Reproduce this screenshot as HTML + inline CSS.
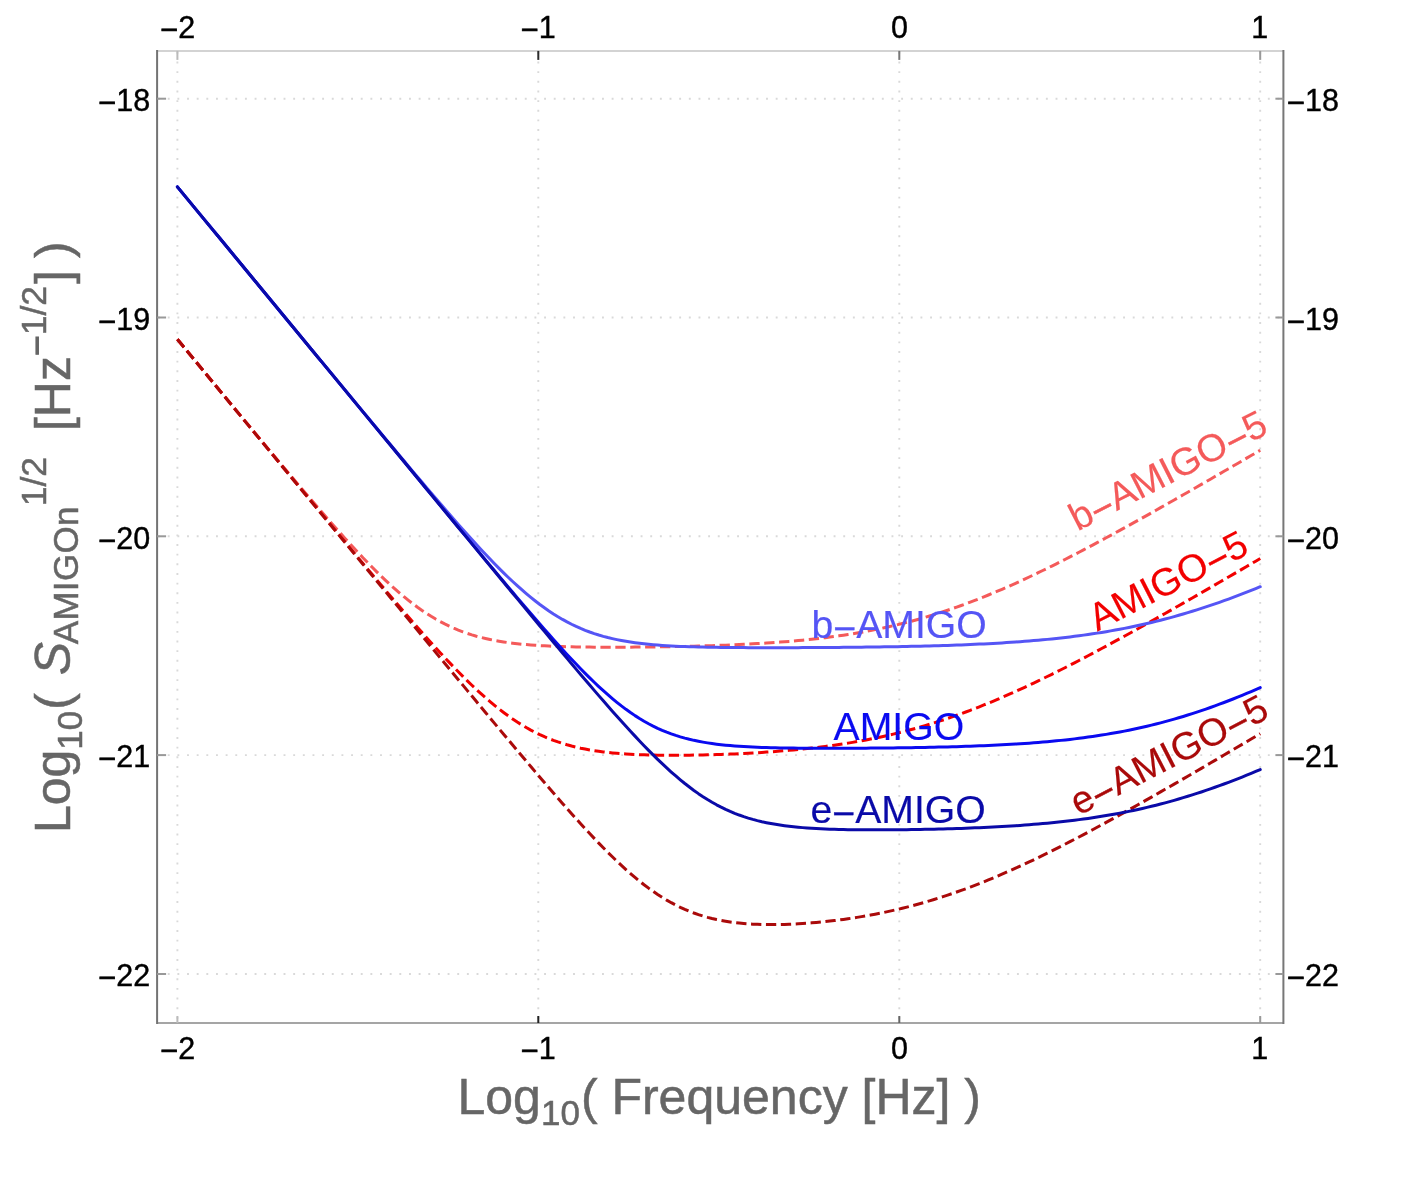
<!DOCTYPE html>
<html><head><meta charset="utf-8"><title>AMIGO sensitivity</title>
<style>html,body{margin:0;padding:0;background:#fff;}svg{display:block;}</style></head>
<body>
<svg width="1426" height="1180" viewBox="0 0 1426 1180" font-family="'Liberation Sans', sans-serif">
<rect width="100%" height="100%" fill="#fff"/>
<g stroke="#d9d9d9" stroke-width="1.9" stroke-dasharray="1.9 7.75"><line x1="177.4" y1="51.9" x2="177.4" y2="1022.0"/><line x1="538.3" y1="51.9" x2="538.3" y2="1022.0"/><line x1="899.3" y1="51.9" x2="899.3" y2="1022.0"/><line x1="1260.2" y1="51.9" x2="1260.2" y2="1022.0"/><line x1="158.1" y1="98.7" x2="1282.4" y2="98.7"/><line x1="158.1" y1="317.5" x2="1282.4" y2="317.5"/><line x1="158.1" y1="536.3" x2="1282.4" y2="536.3"/><line x1="158.1" y1="755.1" x2="1282.4" y2="755.1"/><line x1="158.1" y1="974.0" x2="1282.4" y2="974.0"/></g>
<path d="M177.40,339.22 L181.93,344.70 L186.46,350.19 L190.99,355.68 L195.52,361.16 L200.05,366.64 L204.58,372.13 L209.12,377.61 L213.65,383.09 L218.18,388.56 L222.71,394.04 L227.24,399.51 L231.77,404.98 L236.30,410.45 L240.83,415.91 L245.36,421.37 L249.89,426.83 L254.42,432.28 L258.95,437.72 L263.48,443.16 L268.02,448.59 L272.55,454.02 L277.08,459.43 L281.61,464.84 L286.14,470.23 L290.67,475.61 L295.20,480.98 L299.73,486.33 L304.26,491.66 L308.79,496.97 L313.32,502.26 L317.85,507.53 L322.38,512.77 L326.91,517.97 L331.45,523.14 L335.98,528.27 L340.51,533.36 L345.04,538.40 L349.57,543.38 L354.10,548.31 L358.63,553.17 L363.16,557.96 L367.69,562.67 L372.22,567.30 L376.75,571.83 L381.28,576.26 L385.81,580.59 L390.35,584.80 L394.88,588.88 L399.41,592.83 L403.94,596.65 L408.47,600.32 L413.00,603.83 L417.53,607.20 L422.06,610.40 L426.59,613.43 L431.12,616.30 L435.65,619.00 L440.18,621.53 L444.71,623.90 L449.25,626.11 L453.78,628.15 L458.31,630.05 L462.84,631.79 L467.37,633.39 L471.90,634.85 L476.43,636.19 L480.96,637.41 L485.49,638.51 L490.02,639.51 L494.55,640.42 L499.08,641.23 L503.61,641.96 L508.14,642.61 L512.68,643.20 L517.21,643.73 L521.74,644.19 L526.27,644.61 L530.80,644.98 L535.33,645.30 L539.86,645.59 L544.39,645.85 L548.92,646.07 L553.45,646.27 L557.98,646.44 L562.51,646.58 L567.04,646.71 L571.58,646.82 L576.11,646.91 L580.64,646.99 L585.17,647.06 L589.70,647.11 L594.23,647.15 L598.76,647.18 L603.29,647.20 L607.82,647.21 L612.35,647.21 L616.88,647.21 L621.41,647.20 L625.94,647.18 L630.48,647.15 L635.01,647.12 L639.54,647.09 L644.07,647.04 L648.60,646.99 L653.13,646.94 L657.66,646.88 L662.19,646.81 L666.72,646.74 L671.25,646.66 L675.78,646.57 L680.31,646.48 L684.84,646.38 L689.38,646.27 L693.91,646.16 L698.44,646.04 L702.97,645.91 L707.50,645.77 L712.03,645.63 L716.56,645.47 L721.09,645.31 L725.62,645.14 L730.15,644.95 L734.68,644.76 L739.21,644.55 L743.74,644.34 L748.27,644.11 L752.81,643.86 L757.34,643.61 L761.87,643.34 L766.40,643.05 L770.93,642.75 L775.46,642.43 L779.99,642.10 L784.52,641.75 L789.05,641.38 L793.58,640.99 L798.11,640.58 L802.64,640.14 L807.17,639.69 L811.71,639.21 L816.24,638.71 L820.77,638.19 L825.30,637.64 L829.83,637.06 L834.36,636.46 L838.89,635.82 L843.42,635.16 L847.95,634.47 L852.48,633.75 L857.01,632.99 L861.54,632.21 L866.07,631.39 L870.61,630.53 L875.14,629.64 L879.67,628.72 L884.20,627.76 L888.73,626.76 L893.26,625.72 L897.79,624.65 L902.32,623.54 L906.85,622.39 L911.38,621.19 L915.91,619.97 L920.44,618.70 L924.97,617.39 L929.51,616.04 L934.04,614.65 L938.57,613.22 L943.10,611.75 L947.63,610.25 L952.16,608.70 L956.69,607.12 L961.22,605.49 L965.75,603.83 L970.28,602.14 L974.81,600.40 L979.34,598.63 L983.87,596.83 L988.40,594.99 L992.94,593.11 L997.47,591.21 L1002.00,589.27 L1006.53,587.30 L1011.06,585.29 L1015.59,583.26 L1020.12,581.20 L1024.65,579.12 L1029.18,577.00 L1033.71,574.86 L1038.24,572.70 L1042.77,570.51 L1047.30,568.30 L1051.84,566.06 L1056.37,563.80 L1060.90,561.53 L1065.43,559.23 L1069.96,556.91 L1074.49,554.58 L1079.02,552.23 L1083.55,549.86 L1088.08,547.47 L1092.61,545.07 L1097.14,542.66 L1101.67,540.23 L1106.20,537.79 L1110.74,535.34 L1115.27,532.87 L1119.80,530.39 L1124.33,527.91 L1128.86,525.41 L1133.39,522.90 L1137.92,520.38 L1142.45,517.86 L1146.98,515.32 L1151.51,512.78 L1156.04,510.23 L1160.57,507.68 L1165.10,505.11 L1169.63,502.54 L1174.17,499.97 L1178.70,497.39 L1183.23,494.80 L1187.76,492.21 L1192.29,489.61 L1196.82,487.01 L1201.35,484.40 L1205.88,481.79 L1210.41,479.18 L1214.94,476.56 L1219.47,473.94 L1224.00,471.32 L1228.53,468.69 L1233.07,466.06 L1237.60,463.43 L1242.13,460.79 L1246.66,458.15 L1251.19,455.51 L1255.72,452.87 L1260.25,450.23" stroke="#f45a5a" fill="none" stroke-width="3" stroke-dasharray="10.3 4.6"/>
<path d="M177.40,339.26 L181.93,344.75 L186.46,350.24 L190.99,355.74 L195.52,361.23 L200.05,366.72 L204.58,372.21 L209.12,377.71 L213.65,383.20 L218.18,388.69 L222.71,394.18 L227.24,399.67 L231.77,405.16 L236.30,410.65 L240.83,416.14 L245.36,421.63 L249.89,427.12 L254.42,432.61 L258.95,438.10 L263.48,443.58 L268.02,449.07 L272.55,454.56 L277.08,460.04 L281.61,465.53 L286.14,471.01 L290.67,476.49 L295.20,481.97 L299.73,487.45 L304.26,492.92 L308.79,498.39 L313.32,503.87 L317.85,509.33 L322.38,514.80 L326.91,520.26 L331.45,525.72 L335.98,531.17 L340.51,536.62 L345.04,542.06 L349.57,547.50 L354.10,552.92 L358.63,558.34 L363.16,563.76 L367.69,569.16 L372.22,574.55 L376.75,579.93 L381.28,585.29 L385.81,590.64 L390.35,595.97 L394.88,601.28 L399.41,606.57 L403.94,611.84 L408.47,617.07 L413.00,622.28 L417.53,627.45 L422.06,632.59 L426.59,637.69 L431.12,642.74 L435.65,647.74 L440.18,652.68 L444.71,657.56 L449.25,662.38 L453.78,667.12 L458.31,671.78 L462.84,676.36 L467.37,680.84 L471.90,685.23 L476.43,689.50 L480.96,693.66 L485.49,697.70 L490.02,701.61 L494.55,705.38 L499.08,709.01 L503.61,712.49 L508.14,715.82 L512.68,718.99 L517.21,722.00 L521.74,724.85 L526.27,727.54 L530.80,730.06 L535.33,732.43 L539.86,734.63 L544.39,736.68 L548.92,738.58 L553.45,740.34 L557.98,741.95 L562.51,743.43 L567.04,744.79 L571.58,746.02 L576.11,747.14 L580.64,748.16 L585.17,749.07 L589.70,749.90 L594.23,750.64 L598.76,751.31 L603.29,751.90 L607.82,752.43 L612.35,752.89 L616.88,753.30 L621.41,753.66 L625.94,753.98 L630.48,754.25 L635.01,754.48 L639.54,754.68 L644.07,754.84 L648.60,754.98 L653.13,755.09 L657.66,755.17 L662.19,755.23 L666.72,755.27 L671.25,755.29 L675.78,755.29 L680.31,755.27 L684.84,755.24 L689.38,755.19 L693.91,755.12 L698.44,755.04 L702.97,754.94 L707.50,754.83 L712.03,754.71 L716.56,754.57 L721.09,754.42 L725.62,754.26 L730.15,754.08 L734.68,753.89 L739.21,753.68 L743.74,753.46 L748.27,753.22 L752.81,752.97 L757.34,752.70 L761.87,752.42 L766.40,752.12 L770.93,751.80 L775.46,751.47 L779.99,751.12 L784.52,750.74 L789.05,750.35 L793.58,749.94 L798.11,749.51 L802.64,749.05 L807.17,748.57 L811.71,748.07 L816.24,747.54 L820.77,746.99 L825.30,746.41 L829.83,745.81 L834.36,745.18 L838.89,744.52 L843.42,743.83 L847.95,743.11 L852.48,742.36 L857.01,741.58 L861.54,740.77 L866.07,739.92 L870.61,739.04 L875.14,738.12 L879.67,737.17 L884.20,736.19 L888.73,735.16 L893.26,734.11 L897.79,733.01 L902.32,731.88 L906.85,730.71 L911.38,729.50 L915.91,728.25 L920.44,726.96 L924.97,725.64 L929.51,724.28 L934.04,722.87 L938.57,721.43 L943.10,719.96 L947.63,718.44 L952.16,716.88 L956.69,715.29 L961.22,713.66 L965.75,712.00 L970.28,710.30 L974.81,708.56 L979.34,706.79 L983.87,704.98 L988.40,703.14 L992.94,701.27 L997.47,699.36 L1002.00,697.43 L1006.53,695.46 L1011.06,693.46 L1015.59,691.43 L1020.12,689.38 L1024.65,687.30 L1029.18,685.19 L1033.71,683.05 L1038.24,680.90 L1042.77,678.71 L1047.30,676.51 L1051.84,674.28 L1056.37,672.03 L1060.90,669.76 L1065.43,667.47 L1069.96,665.16 L1074.49,662.83 L1079.02,660.49 L1083.55,658.12 L1088.08,655.75 L1092.61,653.35 L1097.14,650.95 L1101.67,648.52 L1106.20,646.09 L1110.74,643.64 L1115.27,641.18 L1119.80,638.71 L1124.33,636.22 L1128.86,633.73 L1133.39,631.23 L1137.92,628.71 L1142.45,626.19 L1146.98,623.66 L1151.51,621.12 L1156.04,618.57 L1160.57,616.02 L1165.10,613.45 L1169.63,610.89 L1174.17,608.31 L1178.70,605.73 L1183.23,603.14 L1187.76,600.55 L1192.29,597.95 L1196.82,595.35 L1201.35,592.75 L1205.88,590.13 L1210.41,587.52 L1214.94,584.90 L1219.47,582.28 L1224.00,579.65 L1228.53,577.02 L1233.07,574.39 L1237.60,571.75 L1242.13,569.11 L1246.66,566.47 L1251.19,563.83 L1255.72,561.18 L1260.25,558.53" stroke="#f20000" fill="none" stroke-width="3" stroke-dasharray="10.3 4.6"/>
<path d="M177.40,339.26 L181.93,344.76 L186.46,350.25 L190.99,355.75 L195.52,361.24 L200.05,366.73 L204.58,372.23 L209.12,377.72 L213.65,383.21 L218.18,388.71 L222.71,394.20 L227.24,399.69 L231.77,405.19 L236.30,410.68 L240.83,416.17 L245.36,421.67 L249.89,427.16 L254.42,432.65 L258.95,438.15 L263.48,443.64 L268.02,449.13 L272.55,454.63 L277.08,460.12 L281.61,465.61 L286.14,471.11 L290.67,476.60 L295.20,482.09 L299.73,487.59 L304.26,493.08 L308.79,498.57 L313.32,504.07 L317.85,509.56 L322.38,515.05 L326.91,520.55 L331.45,526.04 L335.98,531.53 L340.51,537.02 L345.04,542.52 L349.57,548.01 L354.10,553.50 L358.63,558.99 L363.16,564.48 L367.69,569.98 L372.22,575.47 L376.75,580.96 L381.28,586.45 L385.81,591.94 L390.35,597.43 L394.88,602.92 L399.41,608.41 L403.94,613.90 L408.47,619.39 L413.00,624.87 L417.53,630.36 L422.06,635.85 L426.59,641.33 L431.12,646.81 L435.65,652.30 L440.18,657.78 L444.71,663.26 L449.25,668.73 L453.78,674.21 L458.31,679.68 L462.84,685.15 L467.37,690.62 L471.90,696.08 L476.43,701.54 L480.96,707.00 L485.49,712.45 L490.02,717.90 L494.55,723.34 L499.08,728.77 L503.61,734.20 L508.14,739.61 L512.68,745.02 L517.21,750.42 L521.74,755.80 L526.27,761.17 L530.80,766.53 L535.33,771.87 L539.86,777.19 L544.39,782.48 L548.92,787.76 L553.45,793.00 L557.98,798.22 L562.51,803.40 L567.04,808.55 L571.58,813.65 L576.11,818.71 L580.64,823.71 L585.17,828.66 L589.70,833.54 L594.23,838.36 L598.76,843.10 L603.29,847.76 L607.82,852.33 L612.35,856.80 L616.88,861.17 L621.41,865.42 L625.94,869.56 L630.48,873.56 L635.01,877.42 L639.54,881.15 L644.07,884.72 L648.60,888.13 L653.13,891.38 L657.66,894.47 L662.19,897.38 L666.72,900.13 L671.25,902.70 L675.78,905.10 L680.31,907.32 L684.84,909.38 L689.38,911.28 L693.91,913.02 L698.44,914.60 L702.97,916.04 L707.50,917.33 L712.03,918.49 L716.56,919.53 L721.09,920.45 L725.62,921.25 L730.15,921.95 L734.68,922.56 L739.21,923.07 L743.74,923.50 L748.27,923.85 L752.81,924.13 L757.34,924.34 L761.87,924.48 L766.40,924.57 L770.93,924.60 L775.46,924.58 L779.99,924.52 L784.52,924.40 L789.05,924.24 L793.58,924.04 L798.11,923.80 L802.64,923.53 L807.17,923.21 L811.71,922.85 L816.24,922.47 L820.77,922.04 L825.30,921.58 L829.83,921.08 L834.36,920.55 L838.89,919.99 L843.42,919.39 L847.95,918.75 L852.48,918.08 L857.01,917.38 L861.54,916.63 L866.07,915.85 L870.61,915.04 L875.14,914.18 L879.67,913.29 L884.20,912.36 L888.73,911.39 L893.26,910.38 L897.79,909.34 L902.32,908.25 L906.85,907.12 L911.38,905.95 L915.91,904.74 L920.44,903.50 L924.97,902.21 L929.51,900.87 L934.04,899.50 L938.57,898.09 L943.10,896.64 L947.63,895.14 L952.16,893.61 L956.69,892.03 L961.22,890.42 L965.75,888.77 L970.28,887.08 L974.81,885.35 L979.34,883.58 L983.87,881.78 L988.40,879.94 L992.94,878.07 L997.47,876.16 L1002.00,874.22 L1006.53,872.24 L1011.06,870.24 L1015.59,868.20 L1020.12,866.14 L1024.65,864.04 L1029.18,861.92 L1033.71,859.77 L1038.24,857.59 L1042.77,855.39 L1047.30,853.16 L1051.84,850.91 L1056.37,848.64 L1060.90,846.34 L1065.43,844.03 L1069.96,841.69 L1074.49,839.34 L1079.02,836.96 L1083.55,834.57 L1088.08,832.17 L1092.61,829.74 L1097.14,827.30 L1101.67,824.85 L1106.20,822.38 L1110.74,819.90 L1115.27,817.41 L1119.80,814.91 L1124.33,812.39 L1128.86,809.86 L1133.39,807.33 L1137.92,804.78 L1142.45,802.22 L1146.98,799.66 L1151.51,797.08 L1156.04,794.50 L1160.57,791.91 L1165.10,789.32 L1169.63,786.71 L1174.17,784.10 L1178.70,781.49 L1183.23,778.87 L1187.76,776.24 L1192.29,773.61 L1196.82,770.97 L1201.35,768.33 L1205.88,765.69 L1210.41,763.04 L1214.94,760.39 L1219.47,757.73 L1224.00,755.07 L1228.53,752.41 L1233.07,749.74 L1237.60,747.07 L1242.13,744.40 L1246.66,741.72 L1251.19,739.04 L1255.72,736.36 L1260.25,733.68" stroke="#aa0a0a" fill="none" stroke-width="3" stroke-dasharray="10.3 4.6"/>
<path d="M177.40,186.88 L181.93,192.37 L186.46,197.87 L190.99,203.36 L195.52,208.85 L200.05,214.35 L204.58,219.84 L209.12,225.33 L213.65,230.82 L218.18,236.32 L222.71,241.81 L227.24,247.30 L231.77,252.80 L236.30,258.29 L240.83,263.78 L245.36,269.27 L249.89,274.77 L254.42,280.26 L258.95,285.75 L263.48,291.24 L268.02,296.73 L272.55,302.22 L277.08,307.71 L281.61,313.20 L286.14,318.69 L290.67,324.18 L295.20,329.67 L299.73,335.16 L304.26,340.65 L308.79,346.13 L313.32,351.62 L317.85,357.11 L322.38,362.59 L326.91,368.07 L331.45,373.55 L335.98,379.03 L340.51,384.51 L345.04,389.99 L349.57,395.46 L354.10,400.93 L358.63,406.40 L363.16,411.87 L367.69,417.33 L372.22,422.78 L376.75,428.24 L381.28,433.68 L385.81,439.13 L390.35,444.56 L394.88,449.99 L399.41,455.41 L403.94,460.82 L408.47,466.22 L413.00,471.60 L417.53,476.98 L422.06,482.34 L426.59,487.68 L431.12,493.00 L435.65,498.31 L440.18,503.58 L444.71,508.84 L449.25,514.06 L453.78,519.25 L458.31,524.40 L462.84,529.52 L467.37,534.58 L471.90,539.60 L476.43,544.56 L480.96,549.46 L485.49,554.30 L490.02,559.06 L494.55,563.74 L499.08,568.33 L503.61,572.83 L508.14,577.22 L512.68,581.51 L517.21,585.68 L521.74,589.72 L526.27,593.63 L530.80,597.40 L535.33,601.02 L539.86,604.49 L544.39,607.80 L548.92,610.96 L553.45,613.95 L557.98,616.77 L562.51,619.43 L567.04,621.92 L571.58,624.25 L576.11,626.41 L580.64,628.42 L585.17,630.28 L589.70,632.00 L594.23,633.57 L598.76,635.01 L603.29,636.33 L607.82,637.53 L612.35,638.61 L616.88,639.60 L621.41,640.49 L625.94,641.30 L630.48,642.02 L635.01,642.67 L639.54,643.26 L644.07,643.78 L648.60,644.25 L653.13,644.67 L657.66,645.04 L662.19,645.38 L666.72,645.67 L671.25,645.94 L675.78,646.17 L680.31,646.38 L684.84,646.56 L689.38,646.72 L693.91,646.87 L698.44,646.99 L702.97,647.10 L707.50,647.20 L712.03,647.28 L716.56,647.36 L721.09,647.42 L725.62,647.48 L730.15,647.52 L734.68,647.56 L739.21,647.60 L743.74,647.62 L748.27,647.65 L752.81,647.66 L757.34,647.68 L761.87,647.68 L766.40,647.69 L770.93,647.69 L775.46,647.69 L779.99,647.69 L784.52,647.68 L789.05,647.67 L793.58,647.66 L798.11,647.64 L802.64,647.62 L807.17,647.60 L811.71,647.58 L816.24,647.55 L820.77,647.53 L825.30,647.50 L829.83,647.47 L834.36,647.43 L838.89,647.39 L843.42,647.35 L847.95,647.31 L852.48,647.26 L857.01,647.22 L861.54,647.17 L866.07,647.11 L870.61,647.05 L875.14,646.99 L879.67,646.93 L884.20,646.86 L888.73,646.79 L893.26,646.71 L897.79,646.63 L902.32,646.54 L906.85,646.45 L911.38,646.36 L915.91,646.26 L920.44,646.15 L924.97,646.04 L929.51,645.92 L934.04,645.79 L938.57,645.66 L943.10,645.52 L947.63,645.38 L952.16,645.23 L956.69,645.06 L961.22,644.89 L965.75,644.71 L970.28,644.53 L974.81,644.33 L979.34,644.12 L983.87,643.90 L988.40,643.67 L992.94,643.42 L997.47,643.17 L1002.00,642.90 L1006.53,642.62 L1011.06,642.32 L1015.59,642.01 L1020.12,641.68 L1024.65,641.34 L1029.18,640.98 L1033.71,640.61 L1038.24,640.21 L1042.77,639.80 L1047.30,639.37 L1051.84,638.91 L1056.37,638.44 L1060.90,637.95 L1065.43,637.43 L1069.96,636.89 L1074.49,636.32 L1079.02,635.74 L1083.55,635.12 L1088.08,634.48 L1092.61,633.82 L1097.14,633.12 L1101.67,632.40 L1106.20,631.65 L1110.74,630.87 L1115.27,630.06 L1119.80,629.22 L1124.33,628.35 L1128.86,627.45 L1133.39,626.51 L1137.92,625.54 L1142.45,624.54 L1146.98,623.51 L1151.51,622.44 L1156.04,621.34 L1160.57,620.20 L1165.10,619.03 L1169.63,617.83 L1174.17,616.59 L1178.70,615.31 L1183.23,614.00 L1187.76,612.66 L1192.29,611.28 L1196.82,609.87 L1201.35,608.42 L1205.88,606.94 L1210.41,605.43 L1214.94,603.88 L1219.47,602.31 L1224.00,600.70 L1228.53,599.05 L1233.07,597.38 L1237.60,595.68 L1242.13,593.94 L1246.66,592.18 L1251.19,590.39 L1255.72,588.57 L1260.25,586.72" stroke="#5555f5" fill="none" stroke-width="3" stroke-linejoin="round" stroke-linecap="round"/>
<path d="M177.40,186.88 L181.93,192.37 L186.46,197.87 L190.99,203.36 L195.52,208.86 L200.05,214.35 L204.58,219.84 L209.12,225.34 L213.65,230.83 L218.18,236.32 L222.71,241.82 L227.24,247.31 L231.77,252.80 L236.30,258.30 L240.83,263.79 L245.36,269.28 L249.89,274.78 L254.42,280.27 L258.95,285.76 L263.48,291.26 L268.02,296.75 L272.55,302.24 L277.08,307.74 L281.61,313.23 L286.14,318.72 L290.67,324.22 L295.20,329.71 L299.73,335.20 L304.26,340.70 L308.79,346.19 L313.32,351.68 L317.85,357.18 L322.38,362.67 L326.91,368.16 L331.45,373.65 L335.98,379.15 L340.51,384.64 L345.04,390.13 L349.57,395.62 L354.10,401.12 L358.63,406.61 L363.16,412.10 L367.69,417.59 L372.22,423.08 L376.75,428.57 L381.28,434.06 L385.81,439.55 L390.35,445.04 L394.88,450.53 L399.41,456.02 L403.94,461.51 L408.47,466.99 L413.00,472.48 L417.53,477.96 L422.06,483.45 L426.59,488.93 L431.12,494.41 L435.65,499.89 L440.18,505.36 L444.71,510.84 L449.25,516.31 L453.78,521.78 L458.31,527.24 L462.84,532.71 L467.37,538.16 L471.90,543.61 L476.43,549.06 L480.96,554.50 L485.49,559.93 L490.02,565.36 L494.55,570.77 L499.08,576.18 L503.61,581.57 L508.14,586.95 L512.68,592.31 L517.21,597.65 L521.74,602.98 L526.27,608.28 L530.80,613.56 L535.33,618.81 L539.86,624.03 L544.39,629.21 L548.92,634.35 L553.45,639.45 L557.98,644.50 L562.51,649.49 L567.04,654.42 L571.58,659.28 L576.11,664.06 L580.64,668.76 L585.17,673.37 L589.70,677.88 L594.23,682.28 L598.76,686.56 L603.29,690.72 L607.82,694.74 L612.35,698.62 L616.88,702.35 L621.41,705.92 L625.94,709.33 L630.48,712.56 L635.01,715.63 L639.54,718.52 L644.07,721.23 L648.60,723.76 L653.13,726.12 L657.66,728.31 L662.19,730.32 L666.72,732.18 L671.25,733.88 L675.78,735.44 L680.31,736.85 L684.84,738.13 L689.38,739.29 L693.91,740.34 L698.44,741.28 L702.97,742.12 L707.50,742.88 L712.03,743.55 L716.56,744.15 L721.09,744.68 L725.62,745.16 L730.15,745.58 L734.68,745.95 L739.21,746.28 L743.74,746.56 L748.27,746.82 L752.81,747.04 L757.34,747.24 L761.87,747.41 L766.40,747.56 L770.93,747.69 L775.46,747.80 L779.99,747.90 L784.52,747.98 L789.05,748.05 L793.58,748.11 L798.11,748.16 L802.64,748.20 L807.17,748.23 L811.71,748.26 L816.24,748.28 L820.77,748.29 L825.30,748.29 L829.83,748.30 L834.36,748.29 L838.89,748.29 L843.42,748.28 L847.95,748.26 L852.48,748.24 L857.01,748.22 L861.54,748.19 L866.07,748.16 L870.61,748.12 L875.14,748.09 L879.67,748.05 L884.20,748.00 L888.73,747.95 L893.26,747.90 L897.79,747.84 L902.32,747.78 L906.85,747.71 L911.38,747.64 L915.91,747.57 L920.44,747.49 L924.97,747.40 L929.51,747.31 L934.04,747.22 L938.57,747.11 L943.10,747.00 L947.63,746.89 L952.16,746.77 L956.69,746.64 L961.22,746.50 L965.75,746.35 L970.28,746.20 L974.81,746.03 L979.34,745.86 L983.87,745.68 L988.40,745.48 L992.94,745.28 L997.47,745.06 L1002.00,744.83 L1006.53,744.58 L1011.06,744.33 L1015.59,744.06 L1020.12,743.77 L1024.65,743.47 L1029.18,743.15 L1033.71,742.81 L1038.24,742.46 L1042.77,742.08 L1047.30,741.69 L1051.84,741.28 L1056.37,740.84 L1060.90,740.38 L1065.43,739.90 L1069.96,739.40 L1074.49,738.87 L1079.02,738.31 L1083.55,737.72 L1088.08,737.11 L1092.61,736.47 L1097.14,735.80 L1101.67,735.10 L1106.20,734.37 L1110.74,733.60 L1115.27,732.81 L1119.80,731.97 L1124.33,731.11 L1128.86,730.21 L1133.39,729.27 L1137.92,728.29 L1142.45,727.28 L1146.98,726.23 L1151.51,725.15 L1156.04,724.02 L1160.57,722.86 L1165.10,721.65 L1169.63,720.41 L1174.17,719.13 L1178.70,717.81 L1183.23,716.45 L1187.76,715.05 L1192.29,713.61 L1196.82,712.13 L1201.35,710.62 L1205.88,709.06 L1210.41,707.47 L1214.94,705.84 L1219.47,704.18 L1224.00,702.48 L1228.53,700.74 L1233.07,698.98 L1237.60,697.17 L1242.13,695.34 L1246.66,693.47 L1251.19,691.57 L1255.72,689.64 L1260.25,687.68" stroke="#0a0af0" fill="none" stroke-width="3" stroke-linejoin="round" stroke-linecap="round"/>
<path d="M177.40,186.88 L181.93,192.37 L186.46,197.87 L190.99,203.36 L195.52,208.86 L200.05,214.35 L204.58,219.84 L209.12,225.34 L213.65,230.83 L218.18,236.32 L222.71,241.82 L227.24,247.31 L231.77,252.80 L236.30,258.30 L240.83,263.79 L245.36,269.28 L249.89,274.78 L254.42,280.27 L258.95,285.76 L263.48,291.26 L268.02,296.75 L272.55,302.24 L277.08,307.74 L281.61,313.23 L286.14,318.73 L290.67,324.22 L295.20,329.71 L299.73,335.21 L304.26,340.70 L308.79,346.19 L313.32,351.69 L317.85,357.18 L322.38,362.67 L326.91,368.17 L331.45,373.66 L335.98,379.15 L340.51,384.65 L345.04,390.14 L349.57,395.63 L354.10,401.13 L358.63,406.62 L363.16,412.11 L367.69,417.61 L372.22,423.10 L376.75,428.59 L381.28,434.08 L385.81,439.58 L390.35,445.07 L394.88,450.56 L399.41,456.05 L403.94,461.55 L408.47,467.04 L413.00,472.53 L417.53,478.02 L422.06,483.51 L426.59,489.00 L431.12,494.50 L435.65,499.99 L440.18,505.48 L444.71,510.97 L449.25,516.45 L453.78,521.94 L458.31,527.43 L462.84,532.92 L467.37,538.40 L471.90,543.89 L476.43,549.37 L480.96,554.86 L485.49,560.34 L490.02,565.82 L494.55,571.30 L499.08,576.77 L503.61,582.25 L508.14,587.72 L512.68,593.19 L517.21,598.66 L521.74,604.12 L526.27,609.58 L530.80,615.03 L535.33,620.48 L539.86,625.92 L544.39,631.36 L548.92,636.78 L553.45,642.20 L557.98,647.61 L562.51,653.01 L567.04,658.40 L571.58,663.77 L576.11,669.13 L580.64,674.47 L585.17,679.79 L589.70,685.09 L594.23,690.37 L598.76,695.62 L603.29,700.83 L607.82,706.02 L612.35,711.16 L616.88,716.26 L621.41,721.32 L625.94,726.32 L630.48,731.26 L635.01,736.14 L639.54,740.95 L644.07,745.68 L648.60,750.33 L653.13,754.89 L657.66,759.34 L662.19,763.69 L666.72,767.92 L671.25,772.02 L675.78,775.99 L680.31,779.83 L684.84,783.52 L689.38,787.05 L693.91,790.43 L698.44,793.64 L702.97,796.68 L707.50,799.56 L712.03,802.27 L716.56,804.80 L721.09,807.17 L725.62,809.38 L730.15,811.42 L734.68,813.30 L739.21,815.04 L743.74,816.63 L748.27,818.08 L752.81,819.40 L757.34,820.60 L761.87,821.69 L766.40,822.67 L770.93,823.56 L775.46,824.35 L779.99,825.07 L784.52,825.70 L789.05,826.27 L793.58,826.77 L798.11,827.22 L802.64,827.62 L807.17,827.97 L811.71,828.27 L816.24,828.54 L820.77,828.78 L825.30,828.98 L829.83,829.16 L834.36,829.31 L838.89,829.44 L843.42,829.54 L847.95,829.63 L852.48,829.70 L857.01,829.76 L861.54,829.80 L866.07,829.83 L870.61,829.85 L875.14,829.86 L879.67,829.85 L884.20,829.84 L888.73,829.82 L893.26,829.79 L897.79,829.75 L902.32,829.70 L906.85,829.65 L911.38,829.58 L915.91,829.51 L920.44,829.44 L924.97,829.35 L929.51,829.26 L934.04,829.16 L938.57,829.05 L943.10,828.93 L947.63,828.81 L952.16,828.67 L956.69,828.53 L961.22,828.38 L965.75,828.22 L970.28,828.05 L974.81,827.87 L979.34,827.68 L983.87,827.47 L988.40,827.26 L992.94,827.03 L997.47,826.80 L1002.00,826.55 L1006.53,826.28 L1011.06,826.00 L1015.59,825.71 L1020.12,825.40 L1024.65,825.07 L1029.18,824.73 L1033.71,824.37 L1038.24,823.99 L1042.77,823.59 L1047.30,823.17 L1051.84,822.74 L1056.37,822.28 L1060.90,821.79 L1065.43,821.29 L1069.96,820.76 L1074.49,820.21 L1079.02,819.63 L1083.55,819.02 L1088.08,818.39 L1092.61,817.73 L1097.14,817.04 L1101.67,816.33 L1106.20,815.58 L1110.74,814.80 L1115.27,813.99 L1119.80,813.15 L1124.33,812.27 L1128.86,811.36 L1133.39,810.42 L1137.92,809.44 L1142.45,808.43 L1146.98,807.38 L1151.51,806.30 L1156.04,805.18 L1160.57,804.02 L1165.10,802.83 L1169.63,801.60 L1174.17,800.33 L1178.70,799.03 L1183.23,797.68 L1187.76,796.31 L1192.29,794.89 L1196.82,793.44 L1201.35,791.96 L1205.88,790.43 L1210.41,788.88 L1214.94,787.28 L1219.47,785.66 L1224.00,783.99 L1228.53,782.30 L1233.07,780.57 L1237.60,778.81 L1242.13,777.02 L1246.66,775.20 L1251.19,773.35 L1255.72,771.47 L1260.25,769.56" stroke="#0a0aa8" fill="none" stroke-width="3" stroke-linejoin="round" stroke-linecap="round"/>
<line x1="157.1" y1="50.9" x2="1283.4" y2="50.9" stroke="#d3d3d3" stroke-width="2"/>
<line x1="157.1" y1="1023.0" x2="1283.4" y2="1023.0" stroke="#a5a5a5" stroke-width="2"/>
<line x1="157.1" y1="49.9" x2="157.1" y2="1024.0" stroke="#737373" stroke-width="2"/>
<line x1="1283.4" y1="49.9" x2="1283.4" y2="1024.0" stroke="#777" stroke-width="2"/>
<line x1="177.4" y1="50.9" x2="177.4" y2="59.9" stroke="#bbb" stroke-width="2"/>
<line x1="177.4" y1="1023.0" x2="177.4" y2="1016.0" stroke="#bbb" stroke-width="2"/>
<line x1="538.3" y1="50.9" x2="538.3" y2="59.9" stroke="#2a2a2a" stroke-width="2"/>
<line x1="538.3" y1="1023.0" x2="538.3" y2="1016.0" stroke="#222" stroke-width="2"/>
<line x1="899.3" y1="50.9" x2="899.3" y2="59.9" stroke="#777" stroke-width="2"/>
<line x1="899.3" y1="1023.0" x2="899.3" y2="1016.0" stroke="#666" stroke-width="2"/>
<line x1="1260.2" y1="50.9" x2="1260.2" y2="59.9" stroke="#999" stroke-width="2"/>
<line x1="1260.2" y1="1023.0" x2="1260.2" y2="1016.0" stroke="#999" stroke-width="2"/>
<line x1="157.1" y1="98.7" x2="166.1" y2="98.7" stroke="#999" stroke-width="2"/>
<line x1="1283.4" y1="98.7" x2="1275.4" y2="98.7" stroke="#999" stroke-width="2"/>
<line x1="157.1" y1="317.5" x2="166.1" y2="317.5" stroke="#999" stroke-width="2"/>
<line x1="1283.4" y1="317.5" x2="1275.4" y2="317.5" stroke="#999" stroke-width="2"/>
<line x1="157.1" y1="536.3" x2="166.1" y2="536.3" stroke="#999" stroke-width="2"/>
<line x1="1283.4" y1="536.3" x2="1275.4" y2="536.3" stroke="#999" stroke-width="2"/>
<line x1="157.1" y1="755.1" x2="166.1" y2="755.1" stroke="#999" stroke-width="2"/>
<line x1="1283.4" y1="755.1" x2="1275.4" y2="755.1" stroke="#999" stroke-width="2"/>
<line x1="157.1" y1="974.0" x2="166.1" y2="974.0" stroke="#999" stroke-width="2"/>
<line x1="1283.4" y1="974.0" x2="1275.4" y2="974.0" stroke="#999" stroke-width="2"/>
<g font-size="30.5" fill="#000" stroke="#000" stroke-width="0.4"><text x="177.9" y="38.3" text-anchor="middle"><tspan dy="2.1" stroke="#000" stroke-width="0.8">−</tspan><tspan dy="-2.1">2</tspan></text><text x="177.9" y="1058.6" text-anchor="middle"><tspan dy="2.1" stroke="#000" stroke-width="0.8">−</tspan><tspan dy="-2.1">2</tspan></text><text x="538.3" y="38.3" text-anchor="middle"><tspan dy="2.1" stroke="#000" stroke-width="0.8">−</tspan><tspan dy="-2.1">1</tspan></text><text x="538.3" y="1058.6" text-anchor="middle"><tspan dy="2.1" stroke="#000" stroke-width="0.8">−</tspan><tspan dy="-2.1">1</tspan></text><text x="899.6" y="38.3" text-anchor="middle">0</text><text x="899.6" y="1058.6" text-anchor="middle">0</text><text x="1259.8" y="38.3" text-anchor="middle">1</text><text x="1259.8" y="1058.6" text-anchor="middle">1</text><text x="150.3" y="110.9" text-anchor="end"><tspan dy="2.1" stroke="#000" stroke-width="0.8">−</tspan><tspan dy="-2.1">18</tspan></text><text x="1287.3" y="110.9"><tspan dy="2.1" stroke="#000" stroke-width="0.8">−</tspan><tspan dy="-2.1">18</tspan></text><text x="150.3" y="329.7" text-anchor="end"><tspan dy="2.1" stroke="#000" stroke-width="0.8">−</tspan><tspan dy="-2.1">19</tspan></text><text x="1287.3" y="329.7"><tspan dy="2.1" stroke="#000" stroke-width="0.8">−</tspan><tspan dy="-2.1">19</tspan></text><text x="150.3" y="548.5" text-anchor="end"><tspan dy="2.1" stroke="#000" stroke-width="0.8">−</tspan><tspan dy="-2.1">20</tspan></text><text x="1287.3" y="548.5"><tspan dy="2.1" stroke="#000" stroke-width="0.8">−</tspan><tspan dy="-2.1">20</tspan></text><text x="150.3" y="767.3" text-anchor="end"><tspan dy="2.1" stroke="#000" stroke-width="0.8">−</tspan><tspan dy="-2.1">21</tspan></text><text x="1287.3" y="767.3"><tspan dy="2.1" stroke="#000" stroke-width="0.8">−</tspan><tspan dy="-2.1">21</tspan></text><text x="150.3" y="986.2" text-anchor="end"><tspan dy="2.1" stroke="#000" stroke-width="0.8">−</tspan><tspan dy="-2.1">22</tspan></text><text x="1287.3" y="986.2"><tspan dy="2.1" stroke="#000" stroke-width="0.8">−</tspan><tspan dy="-2.1">22</tspan></text></g>
<g fill="#666" stroke="#666" stroke-width="0.5" font-size="50">
<text x="457.5" y="1114">Log<tspan font-size="35" dy="10.9">10</tspan><tspan dy="-10.9" dx="1">( Frequency [Hz] )</tspan></text>
<text transform="translate(70.3,833.1) rotate(-90)" x="0" y="0">Log<tspan font-size="35" dy="11.7">10</tspan><tspan dy="-11.7" dx="1">( </tspan><tspan font-style="italic" dx="4">S</tspan><tspan font-size="35" dy="7.6" dx="-2.4" letter-spacing="0.3">AMIGOn</tspan><tspan font-size="35.5" dy="-31.6" dx="0">1/2</tspan><tspan dy="24" dx="12">  [Hz</tspan><tspan font-size="35.5" dy="-21" stroke="#666" stroke-width="1">−</tspan><tspan font-size="35.5" dy="-3">1/2</tspan><tspan dy="24" dx="2">]</tspan><tspan dx="-2"> )</tspan></text>
</g>
<g font-size="39.2" stroke-width="0.15">
<text x="811.5" y="637.9" fill="#5555f5" stroke="#5555f5">b<tspan dy="4" stroke="#5555f5" stroke-width="0.45">−</tspan><tspan dy="-4">AMIGO</tspan></text>
<text x="833.5" y="739.8" fill="#0a0af0" stroke="#0a0af0">AMIGO</text>
<text x="810.5" y="822.8" fill="#0a0aa8" stroke="#0a0aa8">e<tspan dy="4" stroke="#0a0aa8" stroke-width="0.45">−</tspan><tspan dy="-4">AMIGO</tspan></text>
<text transform="translate(1077.4,531.4) rotate(-27.1)" font-size="38.6" fill="#f45a5a" stroke="#f45a5a">b<tspan dy="4" stroke="#f45a5a" stroke-width="0.45">−</tspan><tspan dy="-4">AMIGO</tspan><tspan dy="4" stroke="#f45a5a" stroke-width="0.45">−</tspan><tspan dy="-4">5</tspan></text>
<text transform="translate(1097.3,631.8) rotate(-27.2)" font-size="38.6" fill="#f20000" stroke="#f20000">AMIGO<tspan dy="4" stroke="#f20000" stroke-width="0.45">−</tspan><tspan dy="-4">5</tspan></text>
<text transform="translate(1078.5,816) rotate(-27.2)" font-size="38.6" fill="#aa0a0a" stroke="#aa0a0a">e<tspan dy="4" stroke="#aa0a0a" stroke-width="0.45">−</tspan><tspan dy="-4">AMIGO</tspan><tspan dy="4" stroke="#aa0a0a" stroke-width="0.45">−</tspan><tspan dy="-4">5</tspan></text>
</g>
</svg>
</body></html>
